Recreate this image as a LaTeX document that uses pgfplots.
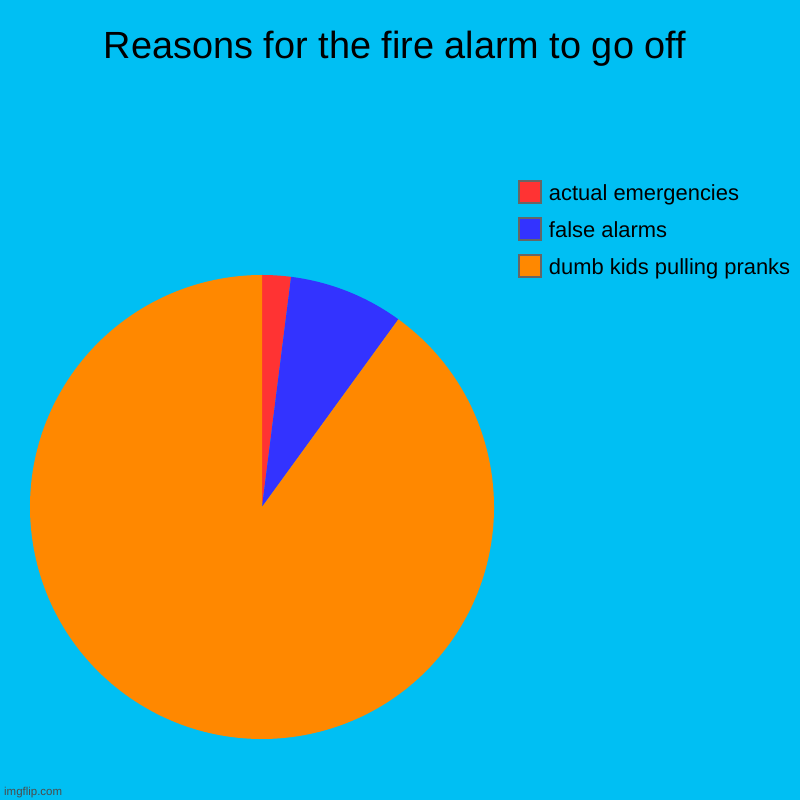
\documentclass[border=0pt]{standalone}
\usepackage{pgfplots}
\pgfplotsset{compat=1.18}
\usepackage{pgfplotstable}
\usepackage{fontspec}
\setmainfont{Liberation Sans}

\definecolor{bgcyan}{RGB}{0,191,243}
\definecolor{sliceRed}{RGB}{255,51,51}
\definecolor{sliceBlue}{RGB}{51,51,255}
\definecolor{sliceOrange}{RGB}{255,136,0}
\definecolor{boxgray}{RGB}{102,102,102}
\definecolor{markgray}{RGB}{75,75,75}

% share of each reason, in percent, clockwise from the top
\pgfplotstableread[col sep=comma]{
label,value,colour
actual emergencies,2,sliceRed
false alarms,8,sliceBlue
dumb kids pulling pranks,90,sliceOrange
}\piedata

\begin{document}
\begin{tikzpicture}
\useasboundingbox (0,0) rectangle (800bp,800bp);
\fill[bgcyan] (0,0) rectangle (800bp,800bp);
\node[font=\fontsize{38}{40}\selectfont, anchor=base, inner sep=0pt] at (395bp,741bp) {Reasons for the fire alarm to go off};
\node[font=\fontsize{11.5}{12}\selectfont, text=markgray, anchor=base west, inner sep=0pt] at (4bp,5bp) {imgflip.com};
\begin{axis}[
  at={(262bp,293bp)}, anchor=center,
  width=464bp, height=464bp, scale only axis,
  xmin=-232, xmax=232, ymin=-232, ymax=232,
  hide axis, clip=false,
  legend image code/.code={\draw[#1, line width=2bp] (1bp,-11bp) rectangle (23bp,11bp);},
  legend cell align=left,
  legend style={at={(1.0517,1.2047)}, anchor=north west, draw=none, fill=none,
    inner sep=0pt, outer sep=0pt, row sep=13bp,
    font=\fontsize{22}{24}\selectfont,
    nodes={inner sep=0pt},
    /tikz/every odd column/.append style={column sep=7bp},
    /tikz/every even column/.append style={text height=19bp, text depth=3bp}},
]
\def\a{90}
\pgfplotsforeachungrouped \i in {0,1,2}{
  \pgfplotstablegetelem{\i}{value}\of\piedata
  \pgfmathsetmacro{\b}{\a-3.6*\pgfplotsretval}
  \pgfplotstablegetelem{\i}{colour}\of\piedata
  \let\col\pgfplotsretval
  \edef\slice{\noexpand\fill[\col] (axis cs:0,0) -- (axis cs:{232*cos(\a)},{232*sin(\a)}) arc[start angle=\a, end angle=\b, radius=232bp] -- cycle;}
  \slice
  \let\a\b
}
\addlegendimage{fill=sliceRed, draw=boxgray}
\addlegendentry{actual emergencies}
\addlegendimage{fill=sliceBlue, draw=boxgray}
\addlegendentry{false alarms}
\addlegendimage{fill=sliceOrange, draw=boxgray}
\addlegendentry{dumb kids pulling pranks}
\end{axis}
\end{tikzpicture}
\end{document}
